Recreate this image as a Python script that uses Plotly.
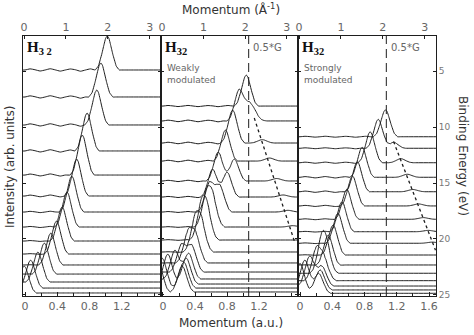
import numpy as np
import plotly.graph_objects as go

# ---------------- data ----------------
# momentum in a.u., binding energy in eV, peak heights in eV-equivalent offset units
HALF_G = 1.07

# panel 1 (experiment)
P1_BE = [4.91, 7.32, 9.82, 12.14, 14.29, 16.16, 17.59, 18.93, 20.18, 21.34, 22.32, 23.13, 23.84, 24.38, 24.82]
P1_K = [1.02, 0.94, 0.89, 0.77, 0.71, 0.64, 0.58, 0.52, 0.46, 0.39, 0.32, 0.24, 0.16, 0.07, -0.01]
P1_H = [3.04, 3.04, 3.13, 3.39, 3.57, 3.30, 3.21, 3.13, 3.04, 2.95, 2.86, 2.77, 2.68, 2.50, 2.41]
P1_RIP = [1.0, 1.0, 1.0, 1.0, 0.9, 0.8, 0.6, 0.5, 0.4, 0.3, 0.2, 0.1, 0.0, 0.0, 0.0]

# panel 2 (weakly modulated)
P2_BE = [8.13, 9.46, 11.43, 13.04, 14.82, 16.25, 17.59, 18.93, 20.09, 21.16, 22.14, 22.95, 23.57, 24.02, 24.38, 24.73]
P2_K = [1.04, 0.95, 0.87, 0.78, 0.69, 0.62, 0.58, 0.54, 0.48, 0.40, 0.31, 0.23, 0.15, 0.06, -0.01, -0.06]
P2_H = [2.77, 2.77, 2.95, 2.77, 2.59, 2.50, 2.59, 2.59, 2.68, 2.59, 2.50, 2.41, 2.59, 2.68, 2.68, 2.68]
P2_K2 = [None, 1.08, None, None, 0.89, 0.80, 0.71, 0.62, 0.55, 0.48, 0.41, 0.36, 0.32, 0.29, 0.26, 0.24]
P2_H2 = [0.0, 1.40, 0.0, 0.0, 1.96, 2.23, 2.32, 2.32, 2.32, 2.32, 2.32, 2.32, 2.32, 2.32, 2.32, 2.32]
P2_KU = [None, 1.15, 1.24, 1.33, 1.42, 1.50, 1.56, 1.62, None, None, None, None, None, None, None, None]
P2_HU = [0.0, 0.36, 0.30, 0.27, 0.22, 0.18, 0.15, 0.12, 0, 0, 0, 0, 0, 0, 0, 0]
P2_RIP = [0.5, 0.7, 0.7, 0.7, 0.6, 0.5, 0.4, 0.3, 0.3, 0.2, 0.1, 0.0, 0.0, 0.0, 0.0, 0.0]
P2_DOT_K = [1.14, 1.65]
P2_DOT_BE = [9.2, 20.4]

# panel 3 (strongly modulated)
P3_BE = [10.87, 11.90, 13.19, 14.49, 15.78, 17.05, 18.24, 19.35, 20.38, 21.43, 22.32, 23.06, 23.72, 24.20, 24.55, 24.85]
P3_K = [1.06, 0.97, 0.87, 0.77, 0.71, 0.65, 0.58, 0.52, 0.47, 0.41, 0.35, 0.27, 0.20, 0.12, 0.06, 0.00]
P3_H = [2.41, 2.59, 2.77, 2.68, 2.68, 2.68, 2.68, 2.68, 2.68, 2.68, 2.68, 2.68, 2.68, 2.68, 2.68, 2.68]
P3_K2 = [None] * 11 + [0.33, 0.30, 0.27, 0.25, 0.23]
P3_H2 = [0.0] * 11 + [1.79, 1.79, 1.79, 1.79, 1.79]
P3_KU = [None, 1.16, 1.25, 1.33, 1.40, 1.47, 1.53, 1.59, 1.64, None, None, None, None, None, None, None]
P3_HU = [0.0, 0.54, 0.36, 0.27, 0.20, 0.18, 0.15, 0.12, 0.10, 0, 0, 0, 0, 0, 0, 0]
P3_RIP = [0.4, 0.4, 0.5, 0.6, 0.6, 0.5, 0.4, 0.3, 0.3, 0.2, 0.1, 0.0, 0.0, 0.0, 0.0, 0.0]
P3_DOT_K = [1.16, 1.68]
P3_DOT_BE = [11.3, 21.0]

# normalised peak line shape (offset from peak centre in a.u., relative height)
PROFILE_DK = [-0.15, -0.11, -0.07, -0.04, -0.02, 0.0, 0.02, 0.04, 0.07, 0.11, 0.15]
PROFILE_V = [0.0, 0.12, 0.45, 0.75, 0.93, 1.0, 0.93, 0.75, 0.45, 0.12, 0.0]

# baseline ripple (eV offset) on a momentum grid
RIPPLE_K = [0.0, 0.0625, 0.125, 0.1875, 0.25, 0.3125, 0.375, 0.4375, 0.5, 0.5625, 0.625, 0.6875,
            0.75, 0.8125, 0.875, 0.9375, 1.0, 1.0625, 1.125, 1.1875, 1.25, 1.3125, 1.375, 1.4375,
            1.5, 1.5625, 1.625, 1.6875, 1.75]
RIPPLE_V = [0.00, 0.10, 0.02, -0.09, 0.00, 0.11, 0.01, -0.10, 0.00, 0.09, 0.02, -0.11, 0.00, 0.10,
            0.00, -0.09, 0.01, 0.10, 0.00, -0.10, 0.00, 0.08, 0.01, -0.08, 0.00, 0.06, 0.00, -0.05, 0.00]

TOP_TICKS = [0, 1, 2, 3]
BE_TICKS = [5, 10, 15, 20, 25]

# ---------------- geometry / style ----------------
K_RANGE = [-0.025, 1.686]
KA_RANGE = [-0.024, 3.27]
BE_RANGE = [25.09, 1.875]
DOMAINS = [[0.0, 0.3341], [0.3341, 0.6659], [0.6659, 1.0]]
LINE = "#1e1e1e"
TXT = "#444444"
FONT = "DejaVu Sans"


def build_curve(base, peaks, rip_amp, main_k):
    ks = set(RIPPLE_K)
    ks.update([K_RANGE[0] - 0.1, K_RANGE[1] + 0.1])
    for k0, h in peaks:
        for d in PROFILE_DK:
            ks.add(round(k0 + d, 4))
    ks = sorted(ks)
    ys = []
    for k in ks:
        inten = 0.0
        for k0, h in peaks:
            inten += h * float(np.interp(k - k0, PROFILE_DK, PROFILE_V, left=0.0, right=0.0))
        rip = 0.0
        if k < main_k - 0.16:
            rip = rip_amp * float(np.interp(k, RIPPLE_K, RIPPLE_V, left=0.0, right=0.0))
        ys.append(base - inten - rip)
    return ks, ys


fig = go.Figure()

panels = [
    dict(be=P1_BE, k=P1_K, h=P1_H, k2=None, h2=None, ku=None, hu=None, rip=P1_RIP, dot=None),
    dict(be=P2_BE, k=P2_K, h=P2_H, k2=P2_K2, h2=P2_H2, ku=P2_KU, hu=P2_HU, rip=P2_RIP,
         dot=(P2_DOT_K, P2_DOT_BE)),
    dict(be=P3_BE, k=P3_K, h=P3_H, k2=P3_K2, h2=P3_H2, ku=P3_KU, hu=P3_HU, rip=P3_RIP,
         dot=(P3_DOT_K, P3_DOT_BE)),
]

for pi, p in enumerate(panels):
    xa = "x" if pi == 0 else f"x{pi + 1}"
    ya = "y" if pi == 0 else f"y{pi + 1}"
    for i, base in enumerate(p["be"]):
        peaks = [(p["k"][i], p["h"][i])]
        if p["k2"] is not None and p["k2"][i] is not None:
            peaks.append((p["k2"][i], p["h2"][i]))
        if p["ku"] is not None and p["ku"][i] is not None:
            peaks.append((p["ku"][i], p["hu"][i]))
        xs, ys = build_curve(base, peaks, p["rip"][i], p["k"][i])
        fig.add_trace(go.Scatter(x=xs, y=ys, mode="lines", xaxis=xa, yaxis=ya,
                                 line=dict(color=LINE, width=1, shape="spline", smoothing=0.5),
                                 hoverinfo="skip", showlegend=False))
    if p["dot"] is not None:
        fig.add_trace(go.Scatter(x=p["dot"][0], y=p["dot"][1], mode="lines", xaxis=xa, yaxis=ya,
                                 line=dict(color=LINE, width=1.3, dash="dot"),
                                 hoverinfo="skip", showlegend=False))
    # empty trace so that the top (Å^-1) axis of this panel is drawn
    fig.add_trace(go.Scatter(x=TOP_TICKS, y=[None] * len(TOP_TICKS), mode="lines",
                             xaxis=f"x{pi + 4}", yaxis=ya, hoverinfo="skip", showlegend=False))

layout = dict(
    width=474, height=335,
    margin=dict(l=23, r=38, t=36, b=39),
    paper_bgcolor="white", plot_bgcolor="white",
    showlegend=False,
    font=dict(family=FONT, color=TXT),
)

bottom_ticks = [[0, 0.4, 0.8, 1.2], [0, 0.4, 0.8, 1.2], [0, 0.4, 0.8, 1.2, 1.6]]
for pi in range(3):
    sfx = "" if pi == 0 else str(pi + 1)
    ya = "y" if pi == 0 else f"y{pi + 1}"
    xa = "x" if pi == 0 else f"x{pi + 1}"
    layout["xaxis" + sfx] = dict(
        domain=DOMAINS[pi], range=K_RANGE, anchor=ya,
        tickvals=bottom_ticks[pi], ticktext=[f"{v:g}" for v in bottom_ticks[pi]],
        ticks="inside", ticklen=4, tickcolor=LINE,
        minor=dict(dtick=0.2, tick0=0, ticks="inside", ticklen=3, tickcolor=LINE),
        showline=True, linecolor=LINE, linewidth=1, mirror=False,
        showgrid=False, zeroline=False,
        tickfont=dict(size=11, color="#666666", family=FONT),
    )
    layout["xaxis" + str(pi + 4)] = dict(
        domain=DOMAINS[pi], range=KA_RANGE, anchor=ya, overlaying=xa, side="top",
        tickvals=TOP_TICKS, ticktext=[str(v) for v in TOP_TICKS],
        ticks="inside", ticklen=3, tickcolor=LINE,
        showline=True, linecolor=LINE, linewidth=1,
        showgrid=False, zeroline=False,
        tickfont=dict(size=11, color="#666666", family=FONT),
    )
    yd = dict(
        domain=[0, 1], range=BE_RANGE, anchor=xa,
        tickvals=BE_TICKS, ticks="inside", ticklen=3, tickcolor=LINE,
        showline=True, linecolor=LINE, linewidth=1, mirror="ticks",
        showgrid=False, zeroline=False,
        showticklabels=False,
    )
    if pi == 2:
        yd.update(side="right", showticklabels=True,
                  tickfont=dict(size=9, color="#777777", family=FONT))
    layout["yaxis" + sfx] = yd

fig.update_layout(**layout)


def py2paper(py):
    return (296 - py) / 260.0


def px2paper(px):
    return (px - 23) / 413.0


ann = []
ann.append(dict(text="Momentum (Å<sup>-1</sup>)", x=px2paper(231), y=py2paper(9), xref="paper", yref="paper",
                xanchor="center", yanchor="middle",
                showarrow=False, font=dict(size=12, color="#333333", family=FONT)))
ann.append(dict(text="Momentum (a.u.)", x=px2paper(231), y=py2paper(323), xref="paper", yref="paper",
                xanchor="center", yanchor="middle",
                showarrow=False, font=dict(size=12, color="#333333", family=FONT)))
ann.append(dict(text="Intensity (arb. units)", x=px2paper(10), y=py2paper(167), xref="paper", yref="paper",
                xanchor="center", yanchor="middle",
                textangle=-90, showarrow=False, font=dict(size=12, color="#333333", family=FONT)))
ann.append(dict(text="Binding Energy (eV)", x=px2paper(463), y=py2paper(156), xref="paper", yref="paper",
                xanchor="center", yanchor="middle",
                textangle=90, showarrow=False, font=dict(size=12, color="#333333", family=FONT)))

labels_x = [25, 163, 300]
label_txt = ["<b>H<sub>3 2</sub></b>", "<b>H<sub>32</sub></b>", "<b>H<sub>32</sub></b>"]
for pi in range(3):
    ann.append(dict(text=label_txt[pi], x=px2paper(labels_x[pi]), y=py2paper(37), xref="paper", yref="paper",
                    xanchor="left", yanchor="top", showarrow=False,
                    font=dict(size=15, color="#111111", family="Liberation Serif")))
ann.append(dict(text="Weakly<br>modulated", x=px2paper(165), y=py2paper(61), xref="paper", yref="paper",
                xanchor="left", yanchor="top", align="left", showarrow=False,
                font=dict(size=9, color="#666666", family=FONT)))
ann.append(dict(text="Strongly<br>modulated", x=px2paper(302), y=py2paper(61), xref="paper", yref="paper",
                xanchor="left", yanchor="top", align="left", showarrow=False,
                font=dict(size=9, color="#666666", family=FONT)))
for xa in ["x2", "x3"]:
    ann.append(dict(text="0.5*G", x=HALF_G + 0.03, y=py2paper(48), xref=xa, yref="paper",
                    xanchor="left", yanchor="middle", showarrow=False,
                    font=dict(size=10, color="#666666", family=FONT)))

shapes = []
for xa, ya in [("x2", "y2"), ("x3", "y3")]:
    shapes.append(dict(type="line", xref=xa, yref=ya + " domain", x0=HALF_G, x1=HALF_G, y0=0, y1=1,
                       line=dict(color=LINE, width=1, dash="9px,5px")))

fig.update_layout(annotations=ann, shapes=shapes)
fig.write_html("out.html")
